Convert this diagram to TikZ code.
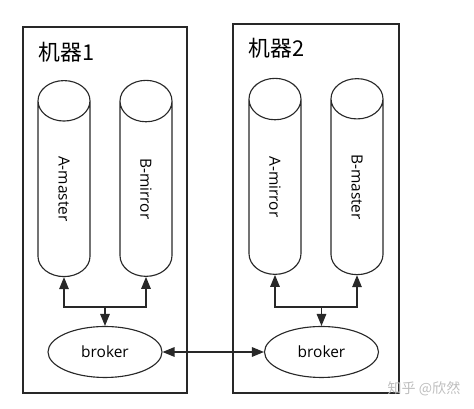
\documentclass[tikz,border=0pt]{standalone}
\usepackage{fontspec}
\setmainfont{Open Sans}
\newfontfamily\cjk{Noto Sans CJK SC}
\usepackage{tikz}
\usetikzlibrary{arrows.meta,shapes.geometric}
\definecolor{LineColor}{RGB}{40,40,40}
\definecolor{MarkColor}{RGB}{190,190,190}
\tikzset{
    machine/.style={draw=LineColor,line width=0.8pt},
    disk/.style={draw=LineColor,line width=0.8pt,shape=cylinder,shape border rotate=90,aspect=3.6,minimum height=4.9cm,minimum width=1.3cm,inner sep=0pt,font=\fontsize{11}{13}\selectfont},
    brokerbox/.style={draw=LineColor,line width=0.8pt,ellipse,minimum width=2.85cm,minimum height=1.275cm,inner sep=0pt,font=\fontsize{11}{13}\selectfont},
    tip/.style={-{Triangle[length=3mm,width=2.4mm]},line width=0.8pt,draw=LineColor}
}

\begin{document}
\begin{tikzpicture}
    \useasboundingbox (0,0) rectangle (11.85,10.225);

    \node[machine,minimum width=4.1cm,minimum height=9.15cm,inner sep=0pt] (box1) at (2.625,4.975) {};
    \node[machine,minimum width=4.15cm,minimum height=9.225cm,inner sep=0pt] (box2) at (7.9,5.0125) {};

    \node[anchor=west,font=\cjk\fontsize{15.5}{17}\selectfont] (title1) at (0.85,8.925) {机器1};
    \node[anchor=west,font=\cjk\fontsize{15.5}{17}\selectfont] (title2) at (6.1,9.025) {机器2};

    \node[disk] (amaster) at (1.6,5.5) {\rotatebox{-90}{A-master}};
    \node[disk] (bmirror) at (3.65,5.5) {\rotatebox{-90}{B-mirror}};
    \node[disk] (amirror) at (6.875,5.55) {\rotatebox{-90}{A-mirror}};
    \node[disk] (bmaster) at (8.925,5.55) {\rotatebox{-90}{B-master}};

    \node[brokerbox] (broker1) at (2.625,1.425) {broker};
    \node[brokerbox] (broker2) at (8.0375,1.425) {broker};

    \coordinate (join1) at (2.625,2.55);
    \coordinate (join2) at (8.0375,2.55);

    \draw[tip] (join1) -| (amaster.bottom);
    \draw[tip] (join1) -| (bmirror.bottom);
    \draw[tip] (join1) -- (broker1.north);
    \draw[tip] (join2) -| (amirror.bottom);
    \draw[tip] (join2) -| (bmaster.bottom);
    \draw[tip] (join2) -- (broker2.north);
    \draw[tip,{Triangle[length=3mm,width=2.4mm]}-{Triangle[length=3mm,width=2.4mm]}] (broker1) -- (broker2);

    \node[text=MarkColor,font=\cjk\fontsize{10}{12}\selectfont] (mark) at (10.6,0.5) {知乎 @欣然};
\end{tikzpicture}
\end{document}
